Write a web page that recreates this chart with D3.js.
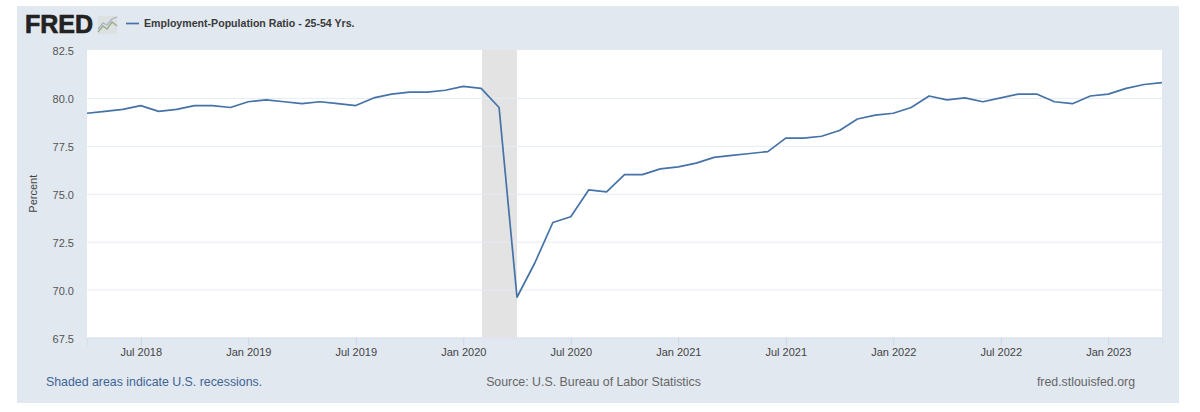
<!DOCTYPE html>
<html><head><meta charset="utf-8">
<script src="https://d3js.org/d3.v7.min.js"></script>
<style>
html,body{margin:0;padding:0;background:#fff}
svg{display:block}
text{font-family:"Liberation Sans",Arial,sans-serif}
</style></head><body>
<svg id="c" width="1200" height="412"></svg>
<script>
const seriesName = "Employment-Population Ratio - 25-54 Yrs.";
const startMonth = "2018-04";
const values = [
 79.2,79.3,79.4,79.6,79.3,79.4,79.6,79.6,79.5,
 79.8,79.9,79.8,79.7,79.8,79.7,79.6,80.0,80.2,80.3,80.3,80.4,
 80.6,80.5,79.5,69.6,71.4,73.5,73.8,75.2,75.1,76.0,76.0,76.3,
 76.4,76.6,76.9,77.0,77.1,77.2,77.9,77.9,78.0,78.3,78.9,79.1,
 79.2,79.5,80.1,79.9,80.0,79.8,80.0,80.2,80.2,79.8,79.7,80.1,
 80.2,80.5,80.7,80.8];
const yTicks = [67.5,70,72.5,75,77.5,80,82.5];
const xTickMonths = ["2018-07","2019-01","2019-07","2020-01","2020-07","2021-01","2021-07","2022-01","2022-07","2023-01"];
const recession = ["2020-02","2020-04"];
const yLabel = "Percent";
const noteLeft = "Shaded areas indicate U.S. recessions.";
const noteCenter = "Source: U.S. Bureau of Labor Statistics";
const noteRight = "fred.stlouisfed.org";

const parse = d3.utcParse("%Y-%m");
const fmt = d3.utcFormat("%b %Y");
const dates = values.map((_,i)=>d3.utcMonth.offset(parse(startMonth),i));
const idx = s => d3.utcMonth.count(parse(startMonth),parse(s));

const svg = d3.select("#c");
svg.append("rect").attr("x",17).attr("y",6).attr("width",1162).attr("height",397).attr("fill","#e1e8f0");
const L=87,R=1162,T=50,B=337.5;
const x = d3.scaleLinear().domain([0,values.length-1]).range([L,R]);
const y = d3.scaleLinear().domain([67.5,82.5]).range([B,T]);
svg.append("rect").attr("x",L).attr("y",T).attr("width",R-L).attr("height",B-T).attr("fill","#fff");

const recX = x(idx(recession[0]))+0.8;
svg.append("rect").attr("x",recX).attr("y",T)
  .attr("width",x(idx(recession[1]))-recX).attr("height",B-T).attr("fill","#e3e3e3");

const yAxis = svg.append("g").attr("transform",`translate(${L},0)`)
  .call(d3.axisLeft(y).tickValues(yTicks).tickFormat(d3.format(".1f")).tickSize(0).tickPadding(13));
yAxis.select(".domain").remove();
yAxis.selectAll("text").attr("font-size",11).attr("fill","#555").attr("dy","0.42em").style("font-family",'"Liberation Sans",Arial,sans-serif');
yAxis.selectAll(".tick").filter(d=>d!==67.5&&d!==82.5).append("line").attr("x1",0).attr("x2",R-L).attr("stroke","#e6ebf3").attr("stroke-width",1);

const xAxis = svg.append("g").attr("transform",`translate(0,${B})`)
  .call(d3.axisBottom(x).tickValues(xTickMonths.map(idx)).tickFormat(i=>fmt(dates[i])).tickSize(8).tickPadding(3));
xAxis.select(".domain").attr("stroke","#ccd6eb").attr("stroke-width",1).attr("stroke-dasharray","1 1");
xAxis.selectAll("line").attr("stroke","#ccd6eb");
xAxis.selectAll("text").attr("font-size",11).attr("fill","#444").style("font-family",'"Liberation Sans",Arial,sans-serif');

const line = d3.line().x((d,i)=>x(i)).y(d=>y(d));
svg.append("path").datum(values).attr("d",line).attr("fill","none").attr("stroke","#4572a7").attr("stroke-width",1.7).attr("stroke-linejoin","round");

svg.append("text").attr("transform",`translate(37,${(T+B)/2}) rotate(-90)`).attr("text-anchor","middle")
  .attr("font-size",11).attr("fill","#444").text(yLabel);

svg.append("line").attr("x1",126).attr("x2",139).attr("y1",23.5).attr("y2",23.5).attr("stroke","#4572a7").attr("stroke-width",1.7);
svg.append("text").attr("x",144).attr("y",27).attr("font-size",10.6).attr("font-weight","bold").attr("fill","#3a3a3a").text(seriesName);

svg.append("text").attr("x",25).attr("y",33).attr("font-size",25.5).attr("font-weight","bold")
  .attr("fill","#222").attr("stroke","#222").attr("stroke-width",0.7).attr("textLength",68).attr("lengthAdjust","spacingAndGlyphs").text("FRED");
svg.append("rect").attr("x",98).attr("y",16).attr("width",19).attr("height",18).attr("fill","#dde0e0");
svg.append("path").attr("d","M98,32L103,26L107,29L112,22L117,26").attr("fill","none").attr("stroke","#9aa98a").attr("stroke-width",1.3);
svg.append("path").attr("d","M98,29L103,23L107,25L112,19L117,17").attr("fill","none").attr("stroke","#a9b4c4").attr("stroke-width",1.3);

const foot = (xp,anchor,fill,t)=>svg.append("text").attr("x",xp).attr("y",386).attr("text-anchor",anchor).attr("font-size",12.35).attr("fill",fill).text(t);
foot(46,"start","#3f6496",noteLeft);
foot(593.5,"middle","#666",noteCenter);
foot(1135,"end","#666",noteRight);
</script>
</body></html>
